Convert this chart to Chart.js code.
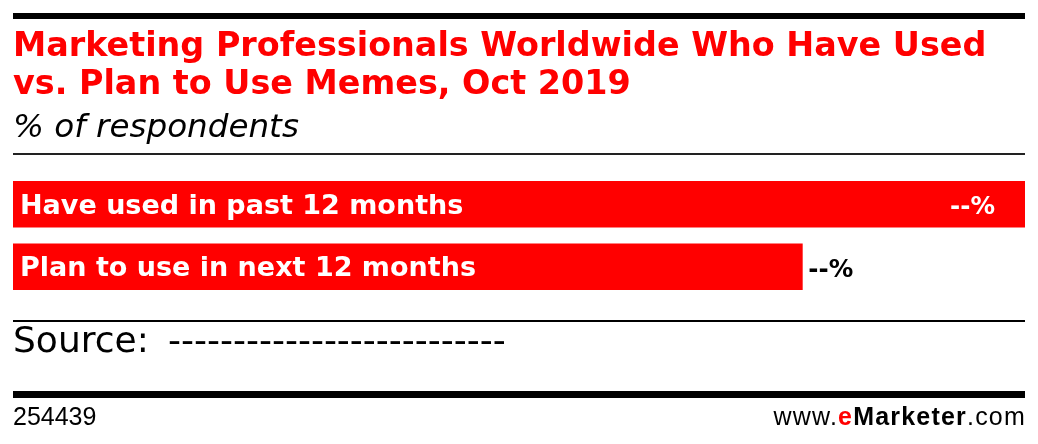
<!DOCTYPE html>
<html>
<head>
<meta charset="utf-8">
<script src="https://cdn.jsdelivr.net/npm/chart.js@4"></script>
<style>
  html, body { margin: 0; padding: 0; background: #fff; }
  #wrap { position: relative; width: 1038px; height: 444px; overflow: hidden; font-family: "DejaVu Sans", sans-serif; }
  canvas { position: absolute; left: 0; top: 0; }
  .rule { position: absolute; left: 13px; width: 1012px; background: #000; }
  .t { position: absolute; white-space: pre; }
  #title { left: 13px; top: 25.5px; font-size: 33.4px; line-height: 38px; font-weight: bold; color: #ff0000; }
  #sub { left: 13px; top: 107px; font-size: 32.6px; line-height: 38px; font-style: italic; color: #000; }
  #source { left: 13px; top: 319px; font-family: "DejaVu Sans"; font-size: 36px; line-height: 42px; color: #000; }
  #source .d { position: absolute; left: 155px; top: 0; }
  #id { left: 13px; top: 402px; font-family: "Liberation Sans", Arial, sans-serif; font-size: 25px; line-height: 28px; color: #000; }
  #brand { right: 12px; top: 402px; font-family: "Liberation Sans", Arial, sans-serif; font-size: 25px; line-height: 28px; letter-spacing: 1.2px; color: #000; }
  #brand b { font-weight: bold; }
  #brand .e { color: #ff0000; }
</style>
</head>
<body>
<div id="wrap">
  <canvas id="c" width="1038" height="444"></canvas>
  <div class="rule" style="top:13px;height:6px;"></div>
  <div class="t" id="title">Marketing Professionals Worldwide Who Have Used
vs. Plan to Use Memes, Oct 2019</div>
  <div class="t" id="sub">% of respondents</div>
  <div class="rule" style="top:153px;height:2px;background:#222;"></div>
  <div class="rule" style="top:320px;height:2px;"></div>
  <div class="t" id="source">Source:<span class="d">--------------------------</span></div>
  <div class="rule" style="top:391px;height:7px;"></div>
  <div class="t" id="id">254439</div>
  <div class="t" id="brand">www.<b class="e">e</b><b>Marketer</b>.com</div>
</div>
<script>
// Data
const categories = ["Have used in past 12 months", "Plan to use in next 12 months"];
const values = [100, 78];            // relative bar lengths
const valueLabels = ["--%", "--%"];   // value text as shown in the reference
const axisMax = 100;

const labelPlugin = {
  id: 'barLabels',
  afterDatasetsDraw(chart) {
    const ctx = chart.ctx;
    const meta = chart.getDatasetMeta(0);
    ctx.save();
    ctx.textBaseline = 'alphabetic';
    meta.data.forEach((bar, i) => {
      const y = bar.y + 9.5;
      ctx.font = 'bold 27px "DejaVu Sans"';
      ctx.fillStyle = '#ffffff';
      ctx.textAlign = 'left';
      ctx.fillText(categories[i], bar.base + 7, y);
      const txt = valueLabels[i];
      ctx.font = 'bold 24.5px "DejaVu Sans"';
      if (values[i] >= axisMax * 0.9) {
        ctx.fillStyle = '#ffffff';
        ctx.textAlign = 'right';
        ctx.fillText(txt, bar.x - 30, y + 0.5);
      } else {
        ctx.fillStyle = '#000000';
        ctx.textAlign = 'left';
        ctx.fillText(txt, bar.x + 6, y + 0.5);
      }
    });
    ctx.restore();
  }
};

new Chart(document.getElementById('c'), {
  type: 'bar',
  data: {
    labels: categories,
    datasets: [{
      data: values,
      backgroundColor: '#ff0000',
      borderWidth: 0,
      barThickness: 46,
      categoryPercentage: 1,
      barPercentage: 1
    }]
  },
  options: {
    indexAxis: 'y',
    responsive: false,
    animation: false,
    devicePixelRatio: 1,
    layout: { padding: { left: 13, right: 13, top: 173, bottom: 146 } },
    scales: {
      x: { display: false, min: 0, max: axisMax },
      y: { display: false }
    },
    plugins: { legend: { display: false }, tooltip: { enabled: false }, title: { display: false } }
  },
  plugins: [labelPlugin]
});
</script>
</body>
</html>
